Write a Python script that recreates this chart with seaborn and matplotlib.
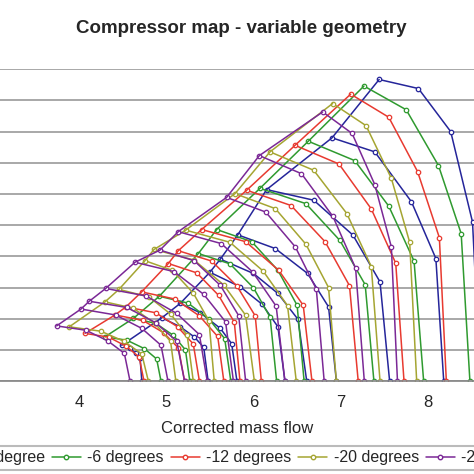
import matplotlib
matplotlib.use("Agg")
import matplotlib.pyplot as plt
import seaborn as sns
import pandas as pd

sns.set_theme(style="white")
plt.rcParams['font.family'] = ['Liberation Sans', 'DejaVu Sans']

labels = ["0 degree", "-6 degrees", "-12 degrees", "-20 degrees", "-25 degrees"]
colors = ["#25259a", "#2f9a2f", "#e83a30", "#a5a532", "#7b2896"]

# speed lines per family: list of (x, y) point lists
blue = [
    [(4.49,1.115),(4.58,1.105),(4.65,1.09),(4.70,1.075),(4.72,1.0)],
    [(4.95,1.203),(5.16,1.174),(5.32,1.142),(5.43,1.108),(5.48,1.0)],
    [(5.16,1.249),(5.39,1.219),(5.62,1.169),(5.75,1.12),(5.81,1.0)],
    [(5.50,1.349),(5.85,1.302),(6.10,1.246),(6.28,1.174),(6.36,1.0)],
    [(5.62,1.391),(6.00,1.345),(6.28,1.281),(6.51,1.198),(6.61,1.0)],
    [(5.82,1.469),(6.25,1.425),(6.62,1.345),(6.86,1.238),(6.95,1.0)],
    [(6.15,1.614),(6.69,1.58),(7.14,1.468),(7.45,1.318),(7.56,1.0)],
    [(6.90,1.78),(7.39,1.735),(7.81,1.575),(8.09,1.393),(8.18,1.0)],
    [(7.44,1.967),(7.89,1.938),(8.26,1.80),(8.51,1.51),(8.60,1.0)],
]
green = [
    [(4.298,1.142),(4.55,1.131),(4.75,1.104),(4.89,1.071),(4.94,1.0)],
    [(4.623,1.201),(4.88,1.185),(5.08,1.147),(5.22,1.10),(5.27,1.0)],
    [(4.921,1.272),(5.25,1.25),(5.49,1.199),(5.67,1.136),(5.74,1.0)],
    [(5.368,1.409),(5.73,1.376),(6.00,1.299),(6.19,1.205),(6.265,1.0)],
    [(5.578,1.486),(5.98,1.447),(6.28,1.355),(6.50,1.243),(6.58,1.0)],
    [(6.074,1.618),(6.60,1.569),(6.99,1.451),(7.28,1.309),(7.38,1.0)],
    [(6.628,1.769),(7.16,1.707),(7.55,1.561),(7.84,1.385),(7.95,1.0)],
    [(7.266,1.946),(7.75,1.87),(8.12,1.691),(8.38,1.473),(8.48,1.0)],
]
red = [
    [(4.069,1.153),(4.34,1.141),(4.54,1.112),(4.69,1.077),(4.745,1.0)],
    [(4.413,1.212),(4.73,1.195),(4.97,1.155),(5.14,1.106),(5.21,1.0)],
    [(4.539,1.238),(4.88,1.219),(5.13,1.174),(5.31,1.119),(5.38,1.0)],
    [(4.718,1.286),(5.10,1.263),(5.38,1.209),(5.59,1.143),(5.66,1.0)],
    [(5.024,1.377),(5.35,1.347),(5.60,1.275),(5.78,1.189),(5.845,1.0)],
    [(5.138,1.418),(5.52,1.385),(5.81,1.305),(6.02,1.209),(6.09,1.0)],
    [(5.406,1.486),(5.91,1.447),(6.29,1.355),(6.57,1.243),(6.67,1.0)],
    [(5.922,1.612),(6.43,1.563),(6.82,1.447),(7.10,1.306),(7.20,1.0)],
    [(6.476,1.756),(6.98,1.696),(7.35,1.552),(7.63,1.378),(7.725,1.0)],
    [(7.114,1.92),(7.55,1.846),(7.88,1.672),(8.13,1.46),(8.21,1.0)],
]
olive = [
    [(3.889,1.174),(4.25,1.16),(4.52,1.127),(4.72,1.087),(4.795,1.0)],
    [(4.298,1.254),(4.62,1.234),(4.87,1.185),(5.05,1.127),(5.11,1.0)],
    [(4.458,1.294),(4.80,1.27),(5.05,1.215),(5.24,1.147),(5.31,1.0)],
    [(4.756,1.386),(5.07,1.355),(5.31,1.282),(5.49,1.193),(5.55,1.0)],
    [(4.86,1.422),(5.32,1.388),(5.66,1.308),(5.91,1.211),(6.01,1.0)],
    [(5.223,1.484),(5.73,1.445),(6.11,1.353),(6.39,1.242),(6.49,1.0)],
    [(5.788,1.601),(6.25,1.553),(6.60,1.439),(6.86,1.30),(6.95,1.0)],
    [(6.189,1.735),(6.69,1.676),(7.07,1.537),(7.35,1.367),(7.45,1.0)],
    [(6.907,1.89),(7.29,1.819),(7.58,1.65),(7.79,1.445),(7.87,1.0)],
]
purple = [
    [(3.744,1.177),(4.08,1.163),(4.33,1.129),(4.52,1.089),(4.585,1.0)],
    [(4.023,1.231),(4.42,1.212),(4.72,1.169),(4.94,1.115),(5.02,1.0)],
    [(4.118,1.256),(4.55,1.236),(4.88,1.187),(5.12,1.128),(5.21,1.0)],
    [(4.306,1.297),(4.77,1.273),(5.12,1.217),(5.38,1.149),(5.47,1.0)],
    [(4.642,1.381),(5.09,1.351),(5.43,1.278),(5.68,1.19),(5.77,1.0)],
    [(4.928,1.42),(5.32,1.386),(5.62,1.307),(5.83,1.21),(5.91,1.0)],
    [(5.138,1.479),(5.63,1.441),(5.99,1.35),(6.26,1.24),(6.36,1.0)],
    [(5.692,1.589),(6.14,1.542),(6.48,1.43),(6.72,1.295),(6.81,1.0)],
    [(6.067,1.723),(6.55,1.665),(6.91,1.528),(7.17,1.362),(7.27,1.0)],
    [(6.793,1.863),(7.13,1.794),(7.39,1.63),(7.58,1.43),(7.65,1.0)],
]
families = [blue, green, red, olive, purple]
x_ticks = [4, 5, 6, 7, 8]

fig = plt.figure(figsize=(4.74, 4.74), dpi=100)
ax = fig.add_axes([0.0, 0.196, 1.0, 0.658])

rows = []
for fi, fam in enumerate(families):
    for li, line in enumerate(fam):
        for pi, (x, y) in enumerate(line):
            rows.append(dict(fam=fi, line=f"{fi}-{li}", order=pi, x=x, y=y))
    for li, line in enumerate(fam):
        rows.append(dict(fam=fi, line=f"{fi}-surge", order=li, x=line[0][0], y=line[0][1]))
df = pd.DataFrame(rows)

for fi in range(len(families)):
    sub = df[df.fam == fi]
    for name, g in sub.groupby("line", sort=False):
        surge = name.endswith("surge")
        sns.lineplot(data=g, x="x", y="y", sort=False, estimator=None, ax=ax,
                     color=colors[fi], lw=1.1,
                     marker=None if surge else "o", markersize=3.2,
                     markerfacecolor="white", markeredgecolor=colors[fi],
                     markeredgewidth=0.9, legend=False)

ax.set_xlim(3.095, 8.527)
ax.set_ylim(1.0, 2.0)
ax.set_yticks([1.0 + 0.1 * i for i in range(11)])
ax.set_yticklabels([])
ax.tick_params(axis='y', length=0)
ax.yaxis.grid(True, color="#999999", lw=1.2)
ax.set_xticks(x_ticks)
ax.set_xticklabels([str(t) for t in x_ticks], fontsize=12)
ax.tick_params(axis='x', direction='out', length=4, color="#888888", pad=6)
for s in ["top", "left", "right"]:
    ax.spines[s].set_visible(False)
ax.spines["bottom"].set_color("#888888")
ax.set_xlabel("Corrected mass flow", fontsize=12, labelpad=8)
ax.set_ylabel("")

fig.text(0.51, 0.94, "Compressor map - variable geometry", ha="center",
         va="center", fontsize=13.5, fontweight="bold")

handles = [plt.Line2D([0], [0], color=c, lw=1.1, marker="o", markersize=3.2,
                      markerfacecolor="white", markeredgecolor=c) for c in colors]
leg = fig.legend(handles, labels, loc="center", bbox_to_anchor=(0.52, 0.034),
                 ncol=5, fontsize=11.5, frameon=True, fancybox=False,
                 handlelength=1.8, columnspacing=0.45, handletextpad=0.4,
                 borderpad=0.3)
leg.get_frame().set_edgecolor("#aaaaaa")
leg.get_frame().set_linewidth(1.5)

fig.savefig("out.png", dpi=100)
